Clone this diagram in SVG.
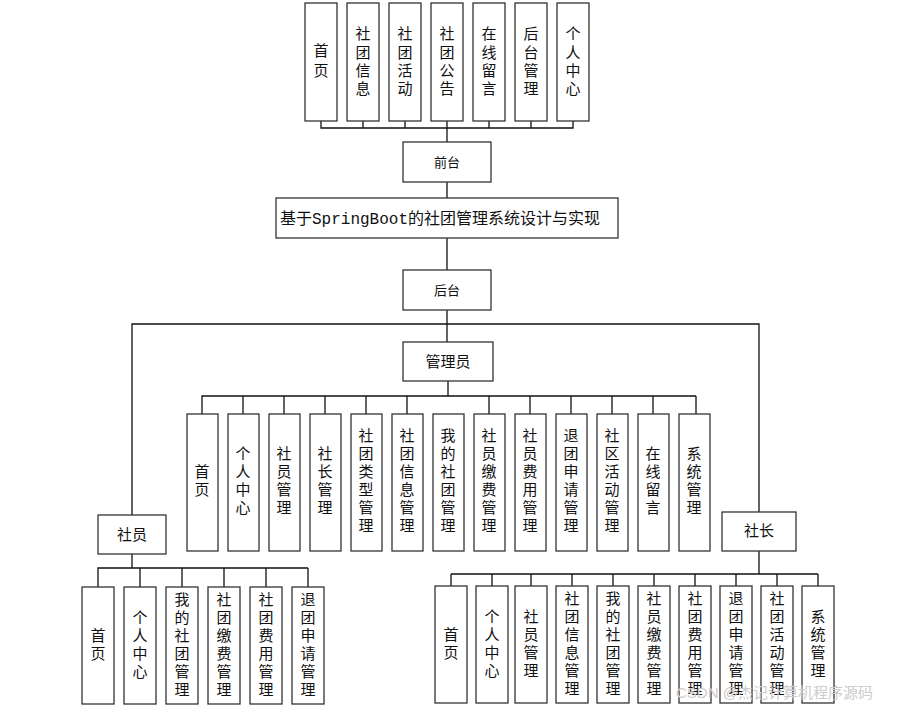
<svg xmlns="http://www.w3.org/2000/svg" width="907" height="709" viewBox="0 0 907 709">
<style>
rect{fill:#fff;stroke:#333;stroke-width:1.3}
.c line,.c path{stroke:#111;stroke-width:1.3;fill:none}
text{font-family:"Liberation Sans","Noto Sans CJK SC",sans-serif;font-size:15px;fill:#111;text-anchor:middle}
.s{font-size:13px}
.w{fill:#ccc;font-size:15px;text-anchor:start}
</style>
<rect x="0" y="0" width="907" height="709" style="stroke:none"/>
<g class="c">
<path d="M321 121V128H573V121M363 121V128M405 121V128M447 121V142M489 121V128M531 121V128"/>
<path d="M447 182V198M447 238V270M447 310V342M132 515V324H759V512"/>
<path d="M448 381V396H202V414M696 396V414M448 396H696"/>
<path d="M243 396V414M284 396V414M325 396V414M366 396V414M407 396V414M489 396V414M530 396V414M571 396V414M612 396V414M653 396V414"/>
<path d="M132 554V568H98V587M140 568V587M182 568V587M224 568V587M266 568V587M308 568V587M98 568H308"/>
<path d="M759 551V574M451 574H818M451 574V586M492 574V586M531 574V586M572 574V586M613 574V586M654 574V586M695 574V586M736 574V586M777 574V586M818 574V586"/>
</g>
<g id="top">
<g><rect x="305" y="3" width="32" height="118"/><text x="321" y="56">首</text><text x="321" y="76">页</text></g>
<g><rect x="347" y="3" width="32" height="118"/><text x="363" y="39">社</text><text x="363" y="58">团</text><text x="363" y="76">信</text><text x="363" y="94">息</text></g>
<g><rect x="389" y="3" width="32" height="118"/><text x="405" y="39">社</text><text x="405" y="58">团</text><text x="405" y="76">活</text><text x="405" y="94">动</text></g>
<g><rect x="431" y="3" width="32" height="118"/><text x="447" y="39">社</text><text x="447" y="58">团</text><text x="447" y="76">公</text><text x="447" y="94">告</text></g>
<g><rect x="473" y="3" width="32" height="118"/><text x="489" y="39">在</text><text x="489" y="58">线</text><text x="489" y="76">留</text><text x="489" y="94">言</text></g>
<g><rect x="515" y="3" width="32" height="118"/><text x="531" y="39">后</text><text x="531" y="58">台</text><text x="531" y="76">管</text><text x="531" y="94">理</text></g>
<g><rect x="557" y="3" width="32" height="118"/><text x="573" y="39">个</text><text x="573" y="58">人</text><text x="573" y="76">中</text><text x="573" y="94">心</text></g>
</g>
<g id="qiantai"><rect x="403" y="142" width="88" height="40"/><text class="s" x="447" y="167">前台</text></g>
<g id="title"><rect x="276" y="198" width="342" height="40"/><text x="440" y="224" style="font-size:16px;font-family:'Liberation Mono','Noto Sans CJK SC',monospace">基于SpringBoot的社团管理系统设计与实现</text></g>
<g id="houtai"><rect x="403" y="270" width="88" height="40"/><text class="s" x="447" y="295">后台</text></g>
<g id="admin"><rect x="403" y="342" width="90" height="39"/><text x="448" y="367">管理员</text></g>
<g id="adminChildren">
<g><rect x="187" y="414" width="31" height="137"/><text x="202" y="477">首</text><text x="202" y="495">页</text></g>
<g><rect x="228" y="414" width="31" height="137"/><text x="243" y="459">个</text><text x="243" y="477">人</text><text x="243" y="495">中</text><text x="243" y="513">心</text></g>
<g><rect x="269" y="414" width="31" height="137"/><text x="284" y="459">社</text><text x="284" y="477">员</text><text x="284" y="495">管</text><text x="284" y="513">理</text></g>
<g><rect x="310" y="414" width="31" height="137"/><text x="325" y="459">社</text><text x="325" y="477">长</text><text x="325" y="495">管</text><text x="325" y="513">理</text></g>
<g><rect x="351" y="414" width="31" height="137"/><text x="366" y="441">社</text><text x="366" y="459">团</text><text x="366" y="477">类</text><text x="366" y="495">型</text><text x="366" y="513">管</text><text x="366" y="531">理</text></g>
<g><rect x="392" y="414" width="31" height="137"/><text x="407" y="441">社</text><text x="407" y="459">团</text><text x="407" y="477">信</text><text x="407" y="495">息</text><text x="407" y="513">管</text><text x="407" y="531">理</text></g>
<g><rect x="433" y="414" width="31" height="137"/><text x="448" y="441">我</text><text x="448" y="459">的</text><text x="448" y="477">社</text><text x="448" y="495">团</text><text x="448" y="513">管</text><text x="448" y="531">理</text></g>
<g><rect x="474" y="414" width="31" height="137"/><text x="489" y="441">社</text><text x="489" y="459">员</text><text x="489" y="477">缴</text><text x="489" y="495">费</text><text x="489" y="513">管</text><text x="489" y="531">理</text></g>
<g><rect x="515" y="414" width="31" height="137"/><text x="530" y="441">社</text><text x="530" y="459">员</text><text x="530" y="477">费</text><text x="530" y="495">用</text><text x="530" y="513">管</text><text x="530" y="531">理</text></g>
<g><rect x="556" y="414" width="31" height="137"/><text x="571" y="441">退</text><text x="571" y="459">团</text><text x="571" y="477">申</text><text x="571" y="495">请</text><text x="571" y="513">管</text><text x="571" y="531">理</text></g>
<g><rect x="597" y="414" width="31" height="137"/><text x="612" y="441">社</text><text x="612" y="459">区</text><text x="612" y="477">活</text><text x="612" y="495">动</text><text x="612" y="513">管</text><text x="612" y="531">理</text></g>
<g><rect x="638" y="414" width="31" height="137"/><text x="653" y="459">在</text><text x="653" y="477">线</text><text x="653" y="495">留</text><text x="653" y="513">言</text></g>
<g><rect x="679" y="414" width="31" height="137"/><text x="694" y="459">系</text><text x="694" y="477">统</text><text x="694" y="495">管</text><text x="694" y="513">理</text></g>
</g>
<g id="member"><rect x="98" y="515" width="68" height="39"/><text x="132" y="540">社员</text></g>
<g id="memberChildren">
<g><rect x="82" y="587" width="32" height="117"/><text x="98" y="641">首</text><text x="98" y="659">页</text></g>
<g><rect x="124" y="587" width="32" height="117"/><text x="140" y="623">个</text><text x="140" y="641">人</text><text x="140" y="659">中</text><text x="140" y="677">心</text></g>
<g><rect x="166" y="587" width="32" height="117"/><text x="182" y="605">我</text><text x="182" y="623">的</text><text x="182" y="641">社</text><text x="182" y="659">团</text><text x="182" y="677">管</text><text x="182" y="695">理</text></g>
<g><rect x="208" y="587" width="32" height="117"/><text x="224" y="605">社</text><text x="224" y="623">团</text><text x="224" y="641">缴</text><text x="224" y="659">费</text><text x="224" y="677">管</text><text x="224" y="695">理</text></g>
<g><rect x="250" y="587" width="32" height="117"/><text x="266" y="605">社</text><text x="266" y="623">团</text><text x="266" y="641">费</text><text x="266" y="659">用</text><text x="266" y="677">管</text><text x="266" y="695">理</text></g>
<g><rect x="292" y="587" width="32" height="117"/><text x="308" y="605">退</text><text x="308" y="623">团</text><text x="308" y="641">申</text><text x="308" y="659">请</text><text x="308" y="677">管</text><text x="308" y="695">理</text></g>
</g>
<g id="leader"><rect x="722" y="512" width="74" height="39"/><text x="759" y="536">社长</text></g>
<g id="leaderChildren">
<g><rect x="435" y="586" width="32" height="117"/><text x="451" y="640">首</text><text x="451" y="658">页</text></g>
<g><rect x="476" y="586" width="32" height="117"/><text x="492" y="622">个</text><text x="492" y="640">人</text><text x="492" y="658">中</text><text x="492" y="676">心</text></g>
<g><rect x="515" y="586" width="32" height="117"/><text x="531" y="622">社</text><text x="531" y="640">员</text><text x="531" y="658">管</text><text x="531" y="676">理</text></g>
<g><rect x="556" y="586" width="32" height="117"/><text x="572" y="604">社</text><text x="572" y="622">团</text><text x="572" y="640">信</text><text x="572" y="658">息</text><text x="572" y="676">管</text><text x="572" y="694">理</text></g>
<g><rect x="597" y="586" width="32" height="117"/><text x="613" y="604">我</text><text x="613" y="622">的</text><text x="613" y="640">社</text><text x="613" y="658">团</text><text x="613" y="676">管</text><text x="613" y="694">理</text></g>
<g><rect x="638" y="586" width="32" height="117"/><text x="654" y="604">社</text><text x="654" y="622">员</text><text x="654" y="640">缴</text><text x="654" y="658">费</text><text x="654" y="676">管</text><text x="654" y="694">理</text></g>
<g><rect x="679" y="586" width="32" height="117"/><text x="695" y="604">社</text><text x="695" y="622">团</text><text x="695" y="640">费</text><text x="695" y="658">用</text><text x="695" y="676">管</text><text x="695" y="694">理</text></g>
<g><rect x="720" y="586" width="32" height="117"/><text x="736" y="604">退</text><text x="736" y="622">团</text><text x="736" y="640">申</text><text x="736" y="658">请</text><text x="736" y="676">管</text><text x="736" y="694">理</text></g>
<g><rect x="761" y="586" width="32" height="117"/><text x="777" y="604">社</text><text x="777" y="622">团</text><text x="777" y="640">活</text><text x="777" y="658">动</text><text x="777" y="676">管</text><text x="777" y="694">理</text></g>
<g><rect x="802" y="586" width="32" height="117"/><text x="818" y="622">系</text><text x="818" y="640">统</text><text x="818" y="658">管</text><text x="818" y="676">理</text></g>
</g>
<text class="w" x="676" y="698">CSDN @杰记计算机程序源码</text>
</svg>
